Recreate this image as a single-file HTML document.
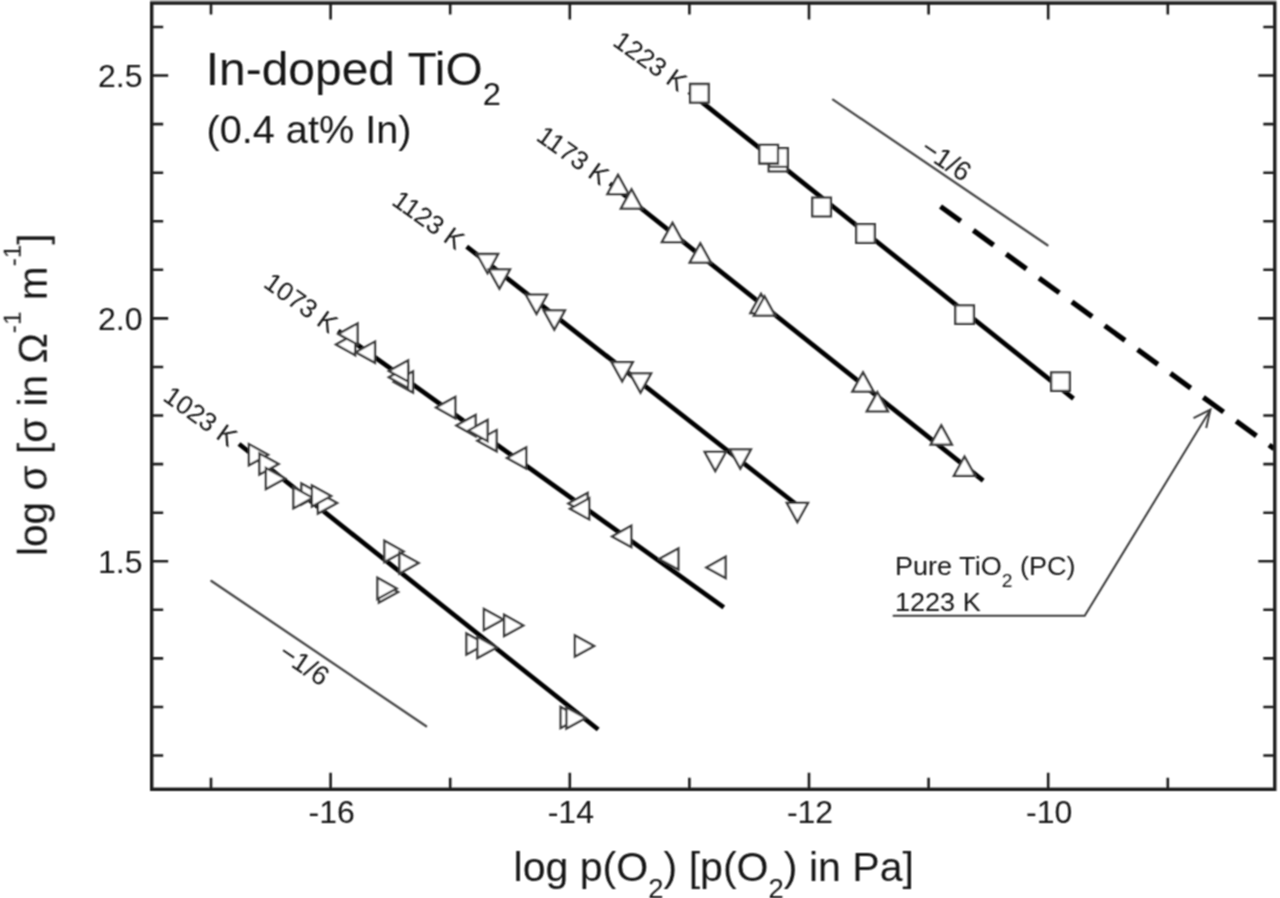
<!DOCTYPE html>
<html><head><meta charset="utf-8"><title>In-doped TiO2 conductivity</title>
<style>html,body{margin:0;padding:0;background:#fff;}body{width:1280px;height:898px;overflow:hidden;}svg{display:block;}</style></head><body>
<svg width="1280" height="898" viewBox="0 0 1280 898">
<defs><filter id="b" x="-5%" y="-5%" width="110%" height="110%"><feConvolveMatrix order="3" kernelMatrix="1 2 1 2 4 2 1 2 1" divisor="16" edgeMode="duplicate"/></filter></defs>
<rect width="1280" height="898" fill="#fff"/>
<g filter="url(#b)">
<rect x="150" y="0" width="1126.5" height="1.6" fill="#aaa"/>
<g stroke="#484848" stroke-width="2.3" fill="none" stroke-linecap="round"><path d="M833 99.6L1047.5 245.3"/><path d="M211.4 581L426.2 726.2"/></g>
<path d="M940.5 206.5L1274 448.6" stroke="#000" stroke-width="5.2" fill="none" stroke-dasharray="25 15.6" stroke-linecap="butt"/>
<g stroke="#3a3a3a" stroke-width="2" fill="none" stroke-linejoin="miter"><path d="M892.7 615.8H1084.7L1210.4 409.7"/><path d="M1193.5 418.1L1210.4 409.7L1206.2 428"/></g>
<g stroke="#000" stroke-width="4.7" fill="none" stroke-linecap="butt">
<path d="M689 91.8L1073.5 398.6"/>
<path d="M610 183.5L983.2 480.6"/>
<path d="M466.7 246.6L797 505"/>
<path d="M338.2 331L723.8 607.3"/>
<path d="M239 444L598.2 729.5"/>
</g>
<g stroke="#3a3a3a" stroke-width="2.3" fill="#fff" stroke-linejoin="miter">
<path d="M690.1 84.0h18.6v18.6h-18.6z"/>
<path d="M768.7 152.7h18.6v18.6h-18.6z"/>
<path d="M769.2 148.2h18.6v18.6h-18.6z"/>
<path d="M759.4 144.9h18.6v18.6h-18.6z"/>
<path d="M812.3 197.7h18.6v18.6h-18.6z"/>
<path d="M856.2 224.2h18.6v18.6h-18.6z"/>
<path d="M955.3 305.3h18.6v18.6h-18.6z"/>
<path d="M1051.2 372.3h18.6v18.6h-18.6z"/>
<path d="M618.0 174.9L628.6 194.1L607.4 194.1z"/>
<path d="M631.5 189.4L642.1 208.6L620.9 208.6z"/>
<path d="M672.5 222.9L683.1 242.1L661.9 242.1z"/>
<path d="M700.3 243.4L710.9 262.6L689.7 262.6z"/>
<path d="M761.0 293.9L771.6 313.1L750.4 313.1z"/>
<path d="M764.5 296.4L775.1 315.6L753.9 315.6z"/>
<path d="M863.0 372.4L873.6 391.6L852.4 391.6z"/>
<path d="M877.4 392.2L888.0 411.4L866.8 411.4z"/>
<path d="M941.3 425.4L951.9 444.6L930.7 444.6z"/>
<path d="M964.5 456.6L975.1 475.8L953.9 475.8z"/>
<path d="M487.5 273.2L498.1 254.0L476.9 254.0z"/>
<path d="M499.4 288.6L510.0 269.4L488.8 269.4z"/>
<path d="M536.5 313.9L547.1 294.7L525.9 294.7z"/>
<path d="M554.3 329.6L564.9 310.4L543.7 310.4z"/>
<path d="M622.2 381.3L632.8 362.1L611.6 362.1z"/>
<path d="M640.5 392.6L651.1 373.4L629.9 373.4z"/>
<path d="M715.3 471.0L725.9 451.8L704.7 451.8z"/>
<path d="M740.3 468.6L750.9 449.4L729.7 449.4z"/>
<path d="M797.4 522.0L808.0 502.8L786.8 502.8z"/>
<path d="M336.0 344.6L355.2 334.0L355.2 355.2z"/>
<path d="M338.4 334.0L357.6 323.4L357.6 344.6z"/>
<path d="M355.8 352.2L375.0 341.6L375.0 362.8z"/>
<path d="M393.8 382.0L413.0 371.4L413.0 392.6z"/>
<path d="M388.9 377.3L408.1 366.7L408.1 387.9z"/>
<path d="M388.9 371.0L408.1 360.4L408.1 381.6z"/>
<path d="M436.1 407.6L455.3 397.0L455.3 418.2z"/>
<path d="M456.4 425.6L475.6 415.0L475.6 436.2z"/>
<path d="M477.4 440.7L496.6 430.1L496.6 451.3z"/>
<path d="M468.4 430.6L487.6 420.0L487.6 441.2z"/>
<path d="M507.0 458.0L526.2 447.4L526.2 468.6z"/>
<path d="M568.4 503.5L587.6 492.9L587.6 514.1z"/>
<path d="M570.0 508.8L589.2 498.2L589.2 519.4z"/>
<path d="M612.1 536.4L631.3 525.8L631.3 547.0z"/>
<path d="M659.2 559.0L678.4 548.4L678.4 569.6z"/>
<path d="M706.4 567.4L725.6 556.8L725.6 578.0z"/>
<path d="M268.1 454.7L248.9 444.1L248.9 465.3z"/>
<path d="M278.6 464.0L259.4 453.4L259.4 474.6z"/>
<path d="M285.1 478.5L265.9 467.9L265.9 489.1z"/>
<path d="M320.6 494.0L301.4 483.4L301.4 504.6z"/>
<path d="M312.6 497.8L293.4 487.2L293.4 508.4z"/>
<path d="M337.1 503.0L317.9 492.4L317.9 513.6z"/>
<path d="M331.1 496.0L311.9 485.4L311.9 506.6z"/>
<path d="M403.6 551.4L384.4 540.8L384.4 562.0z"/>
<path d="M418.6 563.0L399.4 552.4L399.4 573.6z"/>
<path d="M398.1 592.0L378.9 581.4L378.9 602.6z"/>
<path d="M396.6 588.4L377.4 577.8L377.4 599.0z"/>
<path d="M503.1 619.5L483.9 608.9L483.9 630.1z"/>
<path d="M523.3 625.4L504.1 614.8L504.1 636.0z"/>
<path d="M485.6 644.0L466.4 633.4L466.4 654.6z"/>
<path d="M496.6 647.4L477.4 636.8L477.4 658.0z"/>
<path d="M594.1 646.0L574.9 635.4L574.9 656.6z"/>
<path d="M579.8 717.5L560.6 706.9L560.6 728.1z"/>
<path d="M585.6 718.0L566.4 707.4L566.4 728.6z"/>
</g>
<path d="M211.0 789.3V777.8M211.0 3.1V14.6M330.6 789.3V772.8M330.6 3.1V19.6M450.2 789.3V777.8M450.2 3.1V14.6M569.8 789.3V772.8M569.8 3.1V19.6M689.4 789.3V777.8M689.4 3.1V14.6M809.0 789.3V772.8M809.0 3.1V19.6M928.6 789.3V777.8M928.6 3.1V14.6M1048.2 789.3V772.8M1048.2 3.1V19.6M1167.8 789.3V777.8M1167.8 3.1V14.6M151.7 755.5H163.2M1274.8 755.5H1263.3M151.7 707.0H163.2M1274.8 707.0H1263.3M151.7 658.4H163.2M1274.8 658.4H1263.3M151.7 609.8H163.2M1274.8 609.8H1263.3M151.7 561.2H168.2M1274.8 561.2H1258.3M151.7 512.7H163.2M1274.8 512.7H1263.3M151.7 464.1H163.2M1274.8 464.1H1263.3M151.7 415.5H163.2M1274.8 415.5H1263.3M151.7 367.0H163.2M1274.8 367.0H1263.3M151.7 318.4H168.2M1274.8 318.4H1258.3M151.7 269.8H163.2M1274.8 269.8H1263.3M151.7 221.3H163.2M1274.8 221.3H1263.3M151.7 172.7H163.2M1274.8 172.7H1263.3M151.7 124.1H163.2M1274.8 124.1H1263.3M151.7 75.5H168.2M1274.8 75.5H1258.3M151.7 27.0H163.2M1274.8 27.0H1263.3" stroke="#1e1e1e" stroke-width="2.6" fill="none"/>
<rect x="151.7" y="3.1" width="1123.1" height="786.2" fill="none" stroke="#1e1e1e" stroke-width="3.4"/>
<g font-family="'Liberation Sans', Arial, Helvetica, sans-serif" font-size="32" fill="#151515">
<text x="142.5" y="86.8" text-anchor="end">2.5</text>
<text x="142.5" y="329.7" text-anchor="end">2.0</text>
<text x="142.5" y="572.5" text-anchor="end">1.5</text>
<text x="331.6" y="822.8" text-anchor="middle">-16</text>
<text x="570.8" y="822.8" text-anchor="middle">-14</text>
<text x="810.0" y="822.8" text-anchor="middle">-12</text>
<text x="1049.2" y="822.8" text-anchor="middle">-10</text>
</g>
<g font-family="'Liberation Sans', Arial, Helvetica, sans-serif" fill="#151515">
<text transform="translate(513.5 881) scale(1.015 1)" font-size="40.5">log p(O<tspan font-size="27" dy="17">2</tspan><tspan dy="-17">) [p(O</tspan><tspan font-size="27" dy="17">2</tspan><tspan dy="-17">) in Pa]</tspan></text>
<text transform="translate(46.7 556) rotate(-90) scale(1.016 1)" font-size="40">log σ [σ in Ω<tspan font-size="24" dy="-26">-1</tspan><tspan dy="26"> m</tspan><tspan font-size="24" dy="-26">-1</tspan><tspan dy="26">]</tspan></text>
</g>
<g font-family="'Liberation Sans', Arial, Helvetica, sans-serif" fill="#151515">
<text transform="translate(205.8 85.3) scale(1.053 1)" font-size="45.5">In-doped TiO<tspan font-size="31" dy="19.5">2</tspan></text>
<text transform="translate(206.5 143) scale(1.03 1)" font-size="38.5">(0.4 at% In)</text>
</g>
<g font-family="'Liberation Sans', Arial, Helvetica, sans-serif" font-size="26" fill="#151515">
<text transform="translate(611.5 44.5) rotate(35.5)">1223 K</text>
<text transform="translate(535 139.3) rotate(35.5)">1173 K</text>
<text transform="translate(390.5 203.8) rotate(35.5)">1123 K</text>
<text transform="translate(262.2 286.1) rotate(35.5)">1073 K</text>
<text transform="translate(161.7 399.6) rotate(35.5)">1023 K</text>
</g>
<g font-family="'Liberation Sans', Arial, Helvetica, sans-serif" font-size="27" fill="#151515">
<text transform="translate(919 152.6) rotate(34)">−1/6</text>
<text transform="translate(277 657) rotate(34)">−1/6</text>
</g>
<g font-family="'Liberation Sans', Arial, Helvetica, sans-serif" font-size="26" fill="#151515">
<text transform="translate(895 575) scale(1.04 1)">Pure TiO<tspan font-size="18.5" dy="11.5">2</tspan><tspan dy="-11.5"> (PC)</tspan></text>
<text transform="translate(895 610.8) scale(1.04 1)">1223 K</text>
</g>
</g>
</svg>
</body></html>
